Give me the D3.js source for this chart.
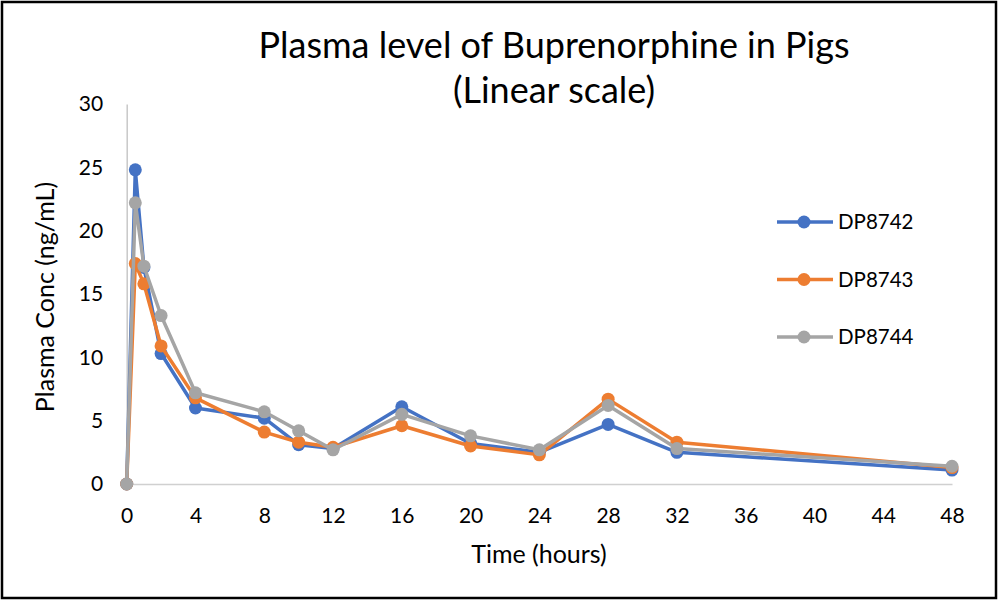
<!DOCTYPE html>
<html>
<head>
<meta charset="utf-8">
<script src="https://cdn.jsdelivr.net/npm/d3@7"></script>
<style>
  html, body { margin: 0; padding: 0; background: #fff; }
  svg { display: block; }
  text { font-family: Lato, "Open Sans", sans-serif; fill: #000; }
</style>
</head>
<body>
<svg id="chart" width="1000" height="603"></svg>
<script>
const hours = [0, 0.5, 1, 2, 4, 8, 10, 12, 16, 20, 24, 28, 32, 48];
const seriesNames = ["DP8742", "DP8743", "DP8744"];
const dp8742 = [0, 24.8, 17.1, 10.3, 6.0, 5.2, 3.1, 2.8, 6.1, 3.2, 2.5, 4.7, 2.5, 1.1];
const dp8743 = [0, 17.4, 15.8, 10.9, 6.8, 4.1, 3.3, 2.9, 4.6, 3.0, 2.3, 6.7, 3.3, 1.3];
const dp8744 = [0, 22.2, 17.2, 13.3, 7.2, 5.7, 4.2, 2.7, 5.5, 3.8, 2.7, 6.2, 2.8, 1.4];
const seriesColors = ["#4472C4", "#ED7D31", "#A5A5A5"];
const xTicks = [0, 4, 8, 12, 16, 20, 24, 28, 32, 36, 40, 44, 48];
const yTicks = [0, 5, 10, 15, 20, 25, 30];
const titleLines = ["Plasma level of Buprenorphine in Pigs", "(Linear scale)"];

const svg = d3.select("#chart");

// outer border
svg.append("rect").attr("x", 2).attr("y", 2).attr("width", 994).attr("height", 596)
  .attr("fill", "#fff").attr("stroke", "#000").attr("stroke-width", 2.5);

const x = d3.scaleLinear().domain([0, 48]).range([126.7, 952]);
const y = d3.scaleLinear().domain([0, 30]).range([484, 104]);

// title
svg.append("g").selectAll("text").data(titleLines).join("text")
  .attr("x", 554).attr("y", (d, i) => 58 + i * 45)
  .attr("text-anchor", "middle").attr("font-size", 36).text(d => d);

// axes
const xAxis = svg.append("g").attr("transform", `translate(0,${y(0)})`)
  .call(d3.axisBottom(x).tickValues(xTicks).tickSize(0).tickPadding(24).tickFormat(d3.format("d")));
xAxis.select(".domain").attr("stroke", "#d0d0d0").attr("stroke-width", 1.5);
xAxis.selectAll("text").attr("font-size", 21).attr("font-family", "Lato, sans-serif").attr("fill", "#000");

const yAxis = svg.append("g").attr("transform", `translate(${x(0)},0)`)
  .call(d3.axisLeft(y).tickValues(yTicks).tickSize(0).tickPadding(23.5).tickFormat(d3.format("d")));
yAxis.select(".domain").attr("stroke", "#c8c8c8").attr("stroke-width", 1.5);
yAxis.selectAll("text").attr("font-size", 21).attr("font-family", "Lato, sans-serif").attr("fill", "#000");

// axis titles
svg.append("text").attr("x", 539).attr("y", 563).attr("text-anchor", "middle")
  .attr("font-size", 25).text("Time (hours)");
svg.append("text").attr("transform", "translate(54,297) rotate(-90)").attr("text-anchor", "middle")
  .attr("font-size", 25).text("Plasma Conc (ng/mL)");

// series
const allValues = [dp8742, dp8743, dp8744];
const line = d3.line().x((d, i) => x(hours[i])).y(d => y(d));
allValues.forEach((vals, s) => {
  const g = svg.append("g");
  g.append("path").datum(vals).attr("d", line).attr("fill", "none")
    .attr("stroke", seriesColors[s]).attr("stroke-width", 3.5).attr("stroke-linejoin", "round");
  g.selectAll("circle").data(vals).join("circle")
    .attr("cx", (d, i) => x(hours[i])).attr("cy", d => y(d)).attr("r", 6.5)
    .attr("fill", seriesColors[s]);
});

// legend
const legendY = [222, 279.5, 337];
const lg = svg.append("g").selectAll("g").data(seriesNames).join("g")
  .attr("transform", (d, i) => `translate(0,${legendY[i]})`);
lg.append("line").attr("x1", 777).attr("x2", 833).attr("y1", 0).attr("y2", 0)
  .attr("stroke", (d, i) => seriesColors[i]).attr("stroke-width", 3.5);
lg.append("circle").attr("cx", 804).attr("cy", 0).attr("r", 6.5).attr("fill", (d, i) => seriesColors[i]);
lg.append("text").attr("x", 838).attr("y", 0).attr("dy", "0.36em").attr("font-size", 20.5).text(d => d);
</script>
</body>
</html>
